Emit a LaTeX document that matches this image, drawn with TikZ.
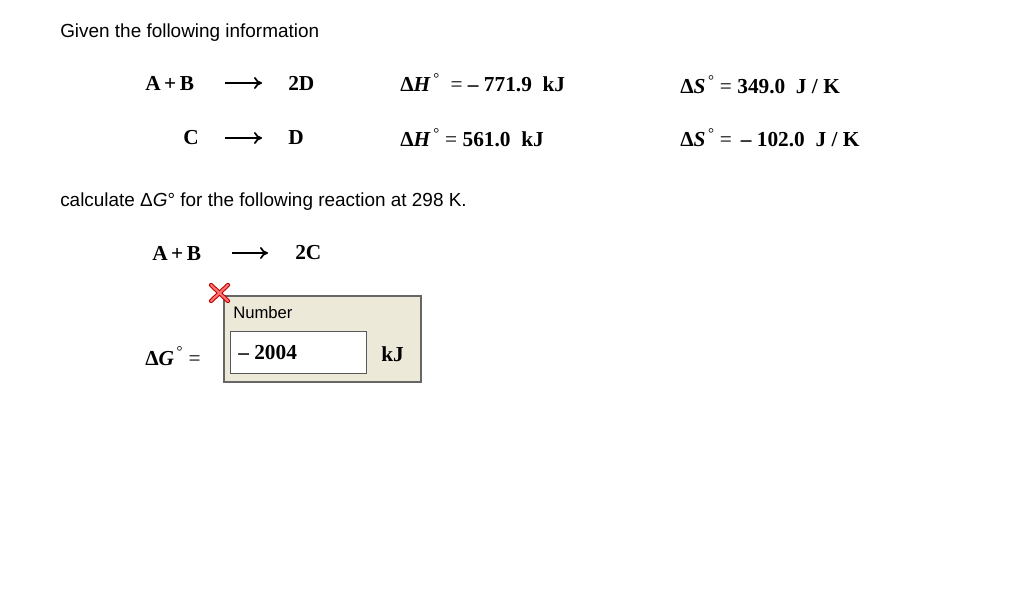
\documentclass[tikz,border=0pt]{standalone}
\usetikzlibrary{arrows.meta}
\usepackage{fontspec}
\setmainfont{Liberation Serif}
\newfontfamily\hv{Liberation Sans}
\begin{document}
\begin{tikzpicture}[x=0.75pt,y=-0.75pt,
  txt/.style={font=\hv\fontsize{14.2}{16}\selectfont,anchor=west,inner sep=0},
  eq/.style={font=\bfseries\fontsize{16}{18}\selectfont,anchor=west,inner sep=0},
  rarr/.style={-{To[length=6pt,width=9pt]},line width=1.3pt}]
\useasboundingbox (0,0) rectangle (1024,610);
\newcommand{\dg}[1]{Δ\textit{#1}\textsuperscript{\,\textmd{°}}}
\node[txt] (t1) at (60,33) {Given the following information};
\node[eq] (r1l) at (145,83) {A\,+\,B};
\coordinate (a1s) at (225,83); \coordinate (a1e) at (262,83);
\draw[rarr] (a1s) -- (a1e);
\node[eq] (r1r) at (288,83) {2D};
\node[eq] (h1) at (400,83) {\dg{H}\ \ \textmd{=} – 771.9\enspace kJ};
\node[eq] (s1) at (680,85) {\dg{S} \textmd{=} 349.0\enspace J / K};
\node[eq] (r2l) at (183,138) {C};
\coordinate (a2s) at (225,138); \coordinate (a2e) at (262,138);
\draw[rarr] (a2s) -- (a2e);
\node[eq] (r2r) at (288,138) {D};
\node[eq] (h2) at (400,138) {\dg{H} \textmd{=} 561.0\enspace kJ};
\node[eq] (s2) at (680,138) {\dg{S}\ \textmd{=}\, – 102.0\enspace J / K};
\node[txt] (t2) at (60,202) {calculate Δ\textit{G}° for the following reaction at 298 K.};
\node[eq] (r3l) at (152,253) {A\,+\,B};
\coordinate (a3s) at (232,253); \coordinate (a3e) at (268,253);
\draw[rarr] (a3s) -- (a3e);
\node[eq] (r3r) at (295,253) {2C};
\node[draw=gray!80!black,line width=1.5pt,fill={rgb,255:red,236;green,233;blue,216},minimum width=147.75pt,minimum height=64.5pt,anchor=north west,inner sep=0] (box) at (223,295) {};
\node[txt,font=\hv\fontsize{12.5}{14}\selectfont] (num) at (233,313) {Number};
\node[draw=gray!70!black,line width=0.8pt,fill=white,minimum width=102pt,minimum height=31.5pt,anchor=north west,inner sep=0] (inp) at (230,331) {};
\node[eq] (val) at (238,353) {– 2004};
\node[eq] (kj) at (381,354) {kJ};
\node[eq] (dG) at (145,356) {\dg{G}\ \textmd{=}};
\coordinate (x1) at (211,285); \coordinate (x2) at (228,301);
\coordinate (x3) at (228,285); \coordinate (x4) at (211,301);
\draw[red!75!black,line width=3.2pt,line cap=round] (x1) -- (x2) (x3) -- (x4);
\draw[red!55,line width=1.6pt,line cap=round] (x1) -- (x2) (x3) -- (x4);
\end{tikzpicture}
\end{document}
